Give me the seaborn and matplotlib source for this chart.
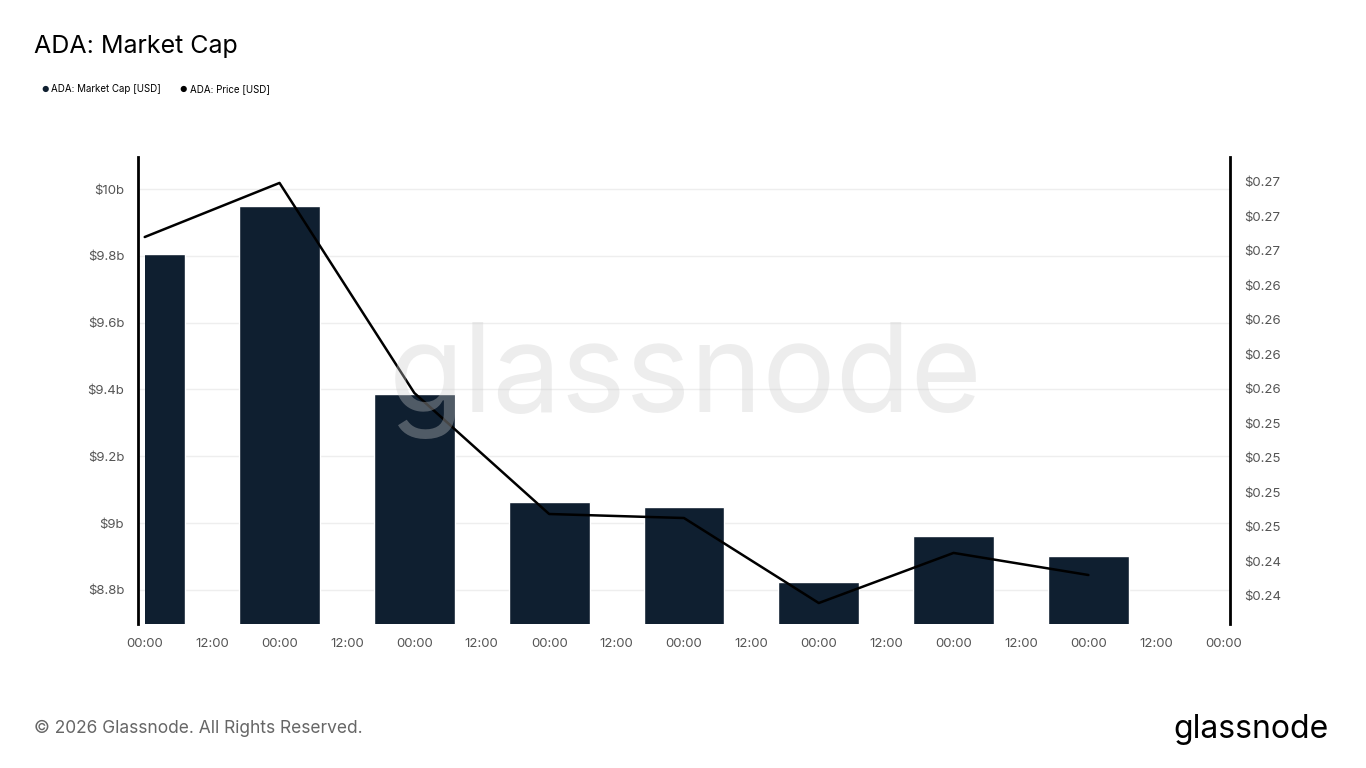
import matplotlib
matplotlib.use("Agg")
import matplotlib.pyplot as plt
import matplotlib.patches as mpatches
import seaborn as sns
import numpy as np
import pandas as pd
from decimal import Decimal, ROUND_HALF_UP

days = [0, 1, 2, 3, 4, 5, 6, 7]
market_cap_b = [9.805, 9.949, 9.386, 9.063, 9.048, 8.824, 8.961, 8.901]
price = [0.26601, 0.26993, 0.25471, 0.24594, 0.24565, 0.23949, 0.24312, 0.24152]
left_ticks = [8.8, 9.0, 9.2, 9.4, 9.6, 9.8, 10.0]
left_labels = ["$8.8b", "$9b", "$9.2b", "$9.4b", "$9.6b", "$9.8b", "$10b"]
right_ticks = [0.24 + 0.0025 * i for i in range(13)]
x_ticks = [i * 0.5 for i in range(17)]
x_labels = ["00:00" if i % 2 == 0 else "12:00" for i in range(17)]

sns.set_theme(style="white")
plt.rcParams['font.family'] = ['Inter', 'DejaVu Sans']

fig = plt.figure(figsize=(13.66, 7.68), dpi=100)
ax = fig.add_axes([0.101, 0.1875, 0.7994, 0.6081])
ylo, yhi = 8.698, 10.096
ax.set_ylim(ylo, yhi)
ax.set_xlim(-0.05, 8.05)
clip = mpatches.Rectangle((0, ylo), 8.05, yhi - ylo, transform=ax.transData, visible=False)
ax.add_patch(clip)
bars = ax.bar(days, [c - 8.5 for c in market_cap_b], bottom=8.5, width=0.6,
              color="#0f1f30", zorder=2)
for b in bars:
    b.set_clip_path(clip)
ax.set_yticks(left_ticks)
ax.set_yticklabels(left_labels, color="#555555", fontsize=9.5)
ax.set_xticks(x_ticks)
ax.set_xticklabels(x_labels, color="#555555", fontsize=9.5)
ax.grid(axis="y", color="#eeeeee", lw=1, zorder=0)
ax.tick_params(axis="both", length=0, pad=10)
for s in ["top", "bottom", "right"]:
    ax.spines[s].set_visible(False)
ax.spines["left"].set_color("black"); ax.spines["left"].set_linewidth(2)

ax2 = ax.twinx()
sns.lineplot(x=days, y=price, ax=ax2, color="black", lw=1.8, zorder=3)
ax2.set_ylim(0.23797, 0.27181)
ax2.set_yticks(right_ticks)
ax2.set_yticklabels(["$" + str(Decimal(f"{v:.4f}").quantize(Decimal("0.01"), ROUND_HALF_UP))
                     for v in right_ticks], color="#555555", fontsize=9.5)
ax2.tick_params(axis="y", length=0, pad=10)
for s in ["top", "bottom", "left"]:
    ax2.spines[s].set_visible(False)
ax2.spines["right"].set_color("black"); ax2.spines["right"].set_linewidth(2)

fig.text(0.502, 0.505, "glassnode", fontsize=88, color="#cccccc", alpha=0.35,
         ha="center", va="center", zorder=0)
fig.text(0.025, 0.94, "ADA: Market Cap", fontsize=18, color="black", va="center")
fig.text(0.03, 0.884, "●", fontsize=6, color="#0f1f30", va="center")
fig.text(0.037, 0.884, "ADA: Market Cap [USD]", fontsize=7, color="black", va="center")
fig.text(0.131, 0.884, "●", fontsize=6, color="black", va="center")
fig.text(0.139, 0.884, "ADA: Price [USD]", fontsize=7, color="black", va="center")
fig.text(0.025, 0.052, "© 2026 Glassnode. All Rights Reserved.", fontsize=12.5, color="#666666", va="center")
fig.text(0.973, 0.05, "glassnode", fontsize=23, color="black", ha="right", va="center")
fig.savefig("out.png", dpi=100)
